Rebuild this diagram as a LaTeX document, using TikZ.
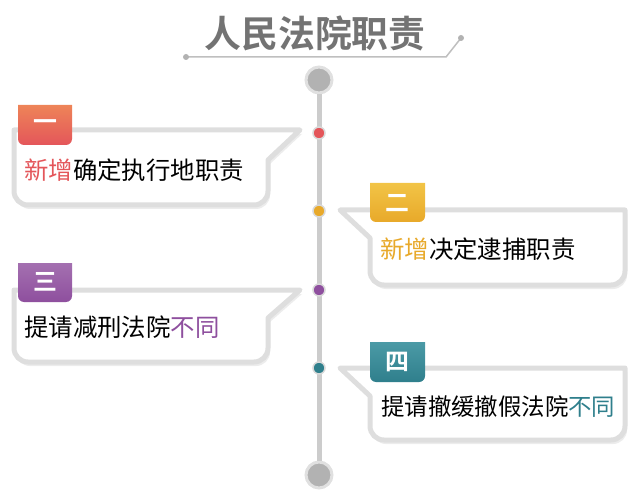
\documentclass[tikz,border=0pt]{standalone}
\usepackage{fontspec}
\setmainfont{Noto Sans CJK SC}[BoldFont={* Bold}]
\usetikzlibrary{shadows}
\definecolor{cred}{HTML}{E4565A}
\definecolor{cred2}{HTML}{EE8458}
\definecolor{cyel}{HTML}{E8A92A}
\definecolor{cyel2}{HTML}{F2C446}
\definecolor{cpur}{HTML}{8E4F9E}
\definecolor{cpur2}{HTML}{A470B0}
\definecolor{ctea}{HTML}{2F7F8C}
\definecolor{ctea2}{HTML}{4B9AA6}
\begin{document}
\begin{tikzpicture}[x=1bp,y=-1bp,
  bub/.style={fill=white,draw=black!13,line width=5bp,line join=round,
    drop shadow={shadow xshift=2bp,shadow yshift=-4bp,opacity=0.15}},
  tab/.style={inner sep=0pt,text=white,font=\bfseries\fontsize{24}{24}\selectfont},
  txt/.style={anchor=west,font=\fontsize{24.5}{25}\selectfont,inner sep=0pt},
  dot/.style={circle,draw=black!15,line width=1.5bp,minimum size=12bp,inner sep=0pt}]
\useasboundingbox (0,0) rectangle (640,500);
% title
\node[font=\bfseries\fontsize{37}{37}\selectfont,text=black!55] (title) at (315,33) {人民法院职责};
\coordinate (tl) at (186,57); \coordinate (tm) at (446,57); \coordinate (tr) at (461,38);
\draw[black!25,line width=1.5bp] (tl) -- (tm) -- (tr);
\fill[black!30] (tl) circle (3); \fill[black!30] (tr) circle (3);
% axis
\node[circle,fill=black!30,draw=black!12,line width=3bp,minimum size=26bp] (top) at (319,80) {};
\node[circle,fill=black!30,draw=black!12,line width=3bp,minimum size=26bp] (bot) at (319,475) {};
\draw[black!20,line width=5bp] (top) -- (bot);
\node[dot,fill=cred] (d1) at (319,133) {};
\node[dot,fill=cyel] (d2) at (319,211) {};
\node[dot,fill=cpur] (d3) at (319,290) {};
\node[dot,fill=ctea] (d4) at (319,368) {};
% bubble 1
\draw[bub,rounded corners=14bp] (14,160) [sharp corners]-- (14,130) -- (300,130) -- (268,160) [rounded corners=14bp]-- (268,205) -- (14,205) -- (14,160);
\shade[top color=cred2,bottom color=cred,rounded corners=6bp] (18,105) [sharp corners]-- (72,105) [rounded corners=6bp]-- (72,145) -- (18,145) [sharp corners]-- cycle;
\node[tab] (t1) at (45,125) {一};
\node[txt] (x1) at (24,170) {\textcolor{cred}{新增}确定执行地职责};
% bubble 2
\draw[bub,rounded corners=14bp] (625,240) [sharp corners]-- (625,210) -- (340,210) -- (370,238) [rounded corners=14bp]-- (370,285) -- (625,285) -- (625,240);
\shade[top color=cyel2,bottom color=cyel,rounded corners=6bp] (370,183) [sharp corners]-- (425,183) [rounded corners=6bp]-- (425,222) -- (370,222) [sharp corners]-- cycle;
\node[tab] (t2) at (397.5,203) {二};
\node[txt] (x2) at (380,249) {\textcolor{cyel}{新增}决定逮捕职责};
% bubble 3
\draw[bub,rounded corners=14bp] (14,318) [sharp corners]-- (14,290) -- (300,290) -- (268,318) [rounded corners=14bp]-- (268,362) -- (14,362) -- (14,318);
\shade[top color=cpur2,bottom color=cpur,rounded corners=6bp] (18,263) [sharp corners]-- (72,263) [rounded corners=6bp]-- (72,302) -- (18,302) [sharp corners]-- cycle;
\node[tab] (t3) at (45,282) {三};
\node[txt] (x3) at (24,327) {提请减刑法院\textcolor{cpur}{不同}};
% bubble 4
\draw[bub,rounded corners=14bp] (625,396) [sharp corners]-- (625,368) -- (340,368) -- (370,396) [rounded corners=14bp]-- (370,440) -- (625,440) -- (625,396);
\shade[top color=ctea2,bottom color=ctea,rounded corners=6bp] (370,342) [sharp corners]-- (425,342) [rounded corners=6bp]-- (425,382) -- (370,382) [sharp corners]-- cycle;
\node[tab] (t4) at (397.5,362) {四};
\node[txt,font=\fontsize{23.5}{24}\selectfont] (x4) at (381,407) {提请撤缓撤假法院\textcolor{ctea}{不同}};
\end{tikzpicture}
\end{document}
